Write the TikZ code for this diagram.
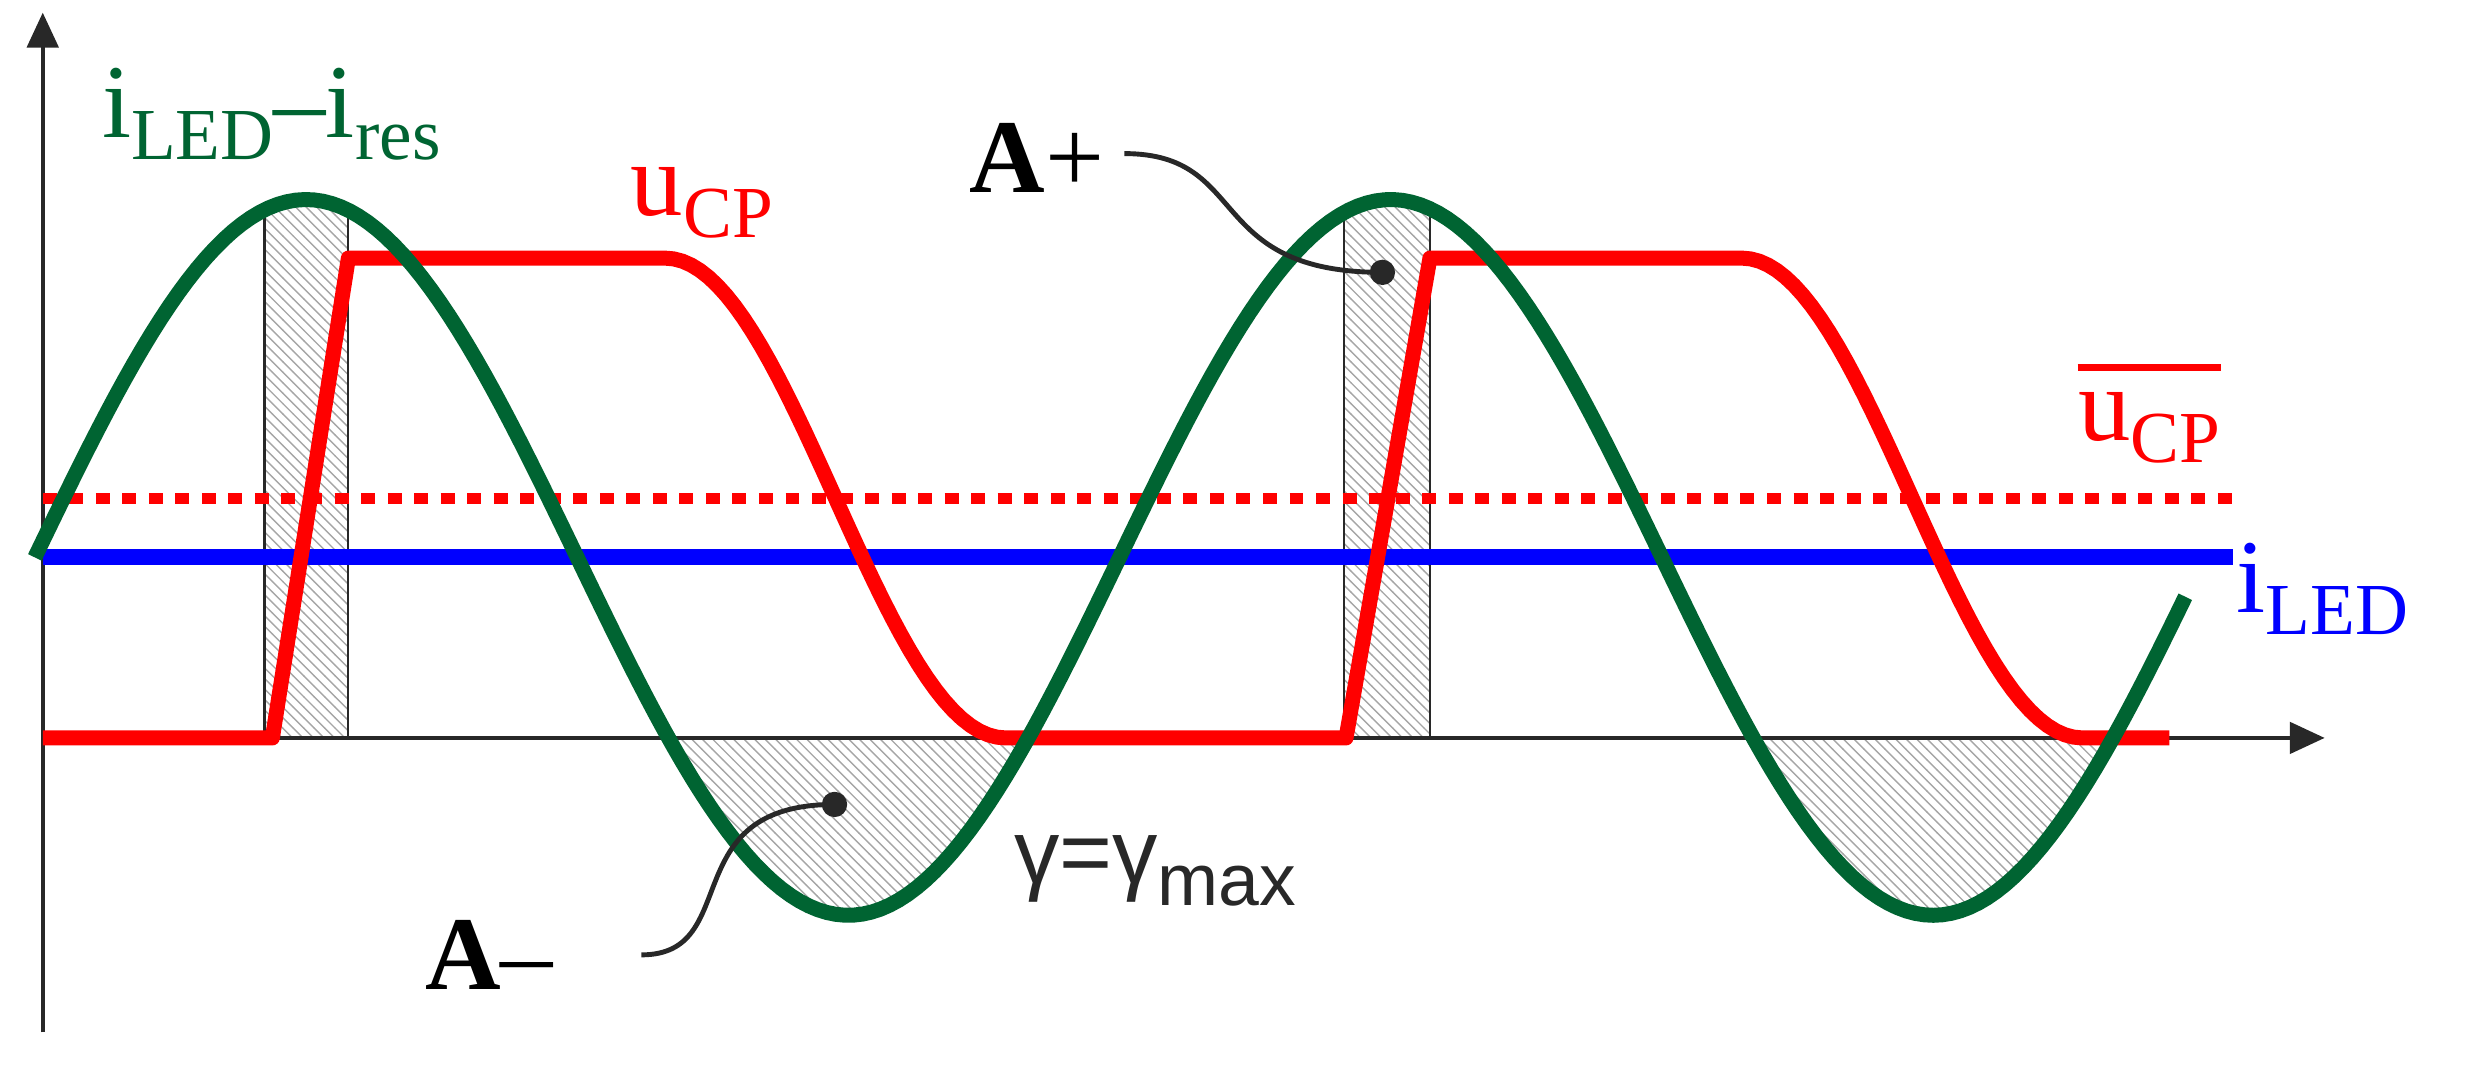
\documentclass[tikz,border=0pt]{standalone}
\usepackage{fontspec}
\setmainfont{Liberation Serif}
\newfontfamily\sansf{Liberation Sans}
\usetikzlibrary{arrows.meta,patterns}
\definecolor{cgreen}{RGB}{0,100,50}
\definecolor{caxis}{RGB}{40,40,40}
\newcommand\lsub[1]{\raisebox{-0.45ex}{\fontsize{21}{21}\selectfont #1}}
\tikzset{
  curve/.style={line width=4.3pt},
  axisline/.style={caxis,line width=1.1pt,-{Triangle[length=10pt,width=9pt]}},
  hatch/.style={pattern=north west lines,pattern color=gray!70},
  bar/.style={caxis,line width=0.6pt},
  lead/.style={caxis,line width=1.4pt},
  lbl/.style={font=\fontsize{30}{30}\selectfont,inner sep=0pt},
  declare function={g(\t)=352-226*sin((\t-22)*0.525547);},
}
\begin{document}
\begin{tikzpicture}[x=0.015944cm,y=-0.015944cm]
\useasboundingbox (0,0) rectangle (1568,678);
% hatched areas
\fill[hatch] (167,466) -- plot[domain=167:220,samples=20] (\x,{g(\x)}) -- (220,466) -- cycle;
\fill[hatch] (849,466) -- plot[domain=849:903,samples=20] (\x,{g(\x)}) -- (903,466) -- cycle;
\fill[hatch] plot[domain=422:649,samples=60] (\x,{g(\x)}) -- cycle;
\fill[hatch] plot[domain=1107:1334,samples=60] (\x,{g(\x)}) -- cycle;
% axes
\coordinate (o) at (27,466);
\coordinate (ytip) at (27,8);
\coordinate (ybot) at (27,652);
\coordinate (xtip) at (1468,466);
\draw[axisline] (ybot) -- (ytip);
\draw[axisline] (o) -- (xtip);
% bars
\draw[bar] (167,466) -- (167,{g(167)});
\draw[bar] (220,466) -- (220,{g(220)});
\draw[bar] (849,466) -- (849,{g(849)});
\draw[bar] (903,466) -- (903,{g(903)});
% mean uCP dotted
\draw[red,line width=3.2pt,dash pattern=on 4pt off 3.6pt] (27,315) -- (1410,315);
% iLED
\draw[blue,line width=4.6pt] (27,352) -- (1410,352);
% uCP
\draw[red,curve,line join=round] (27,466) -- (172,466) -- (220,163) -- (420,163)
  -- plot[domain=0:1,samples=40] ({420+215*\x},{163+303*(1-cos(180*\x))/2})
  -- (850,466) -- (903,163) -- (1100,163)
  -- plot[domain=0:1,samples=40] ({1100+215*\x},{163+303*(1-cos(180*\x))/2})
  -- (1370,466);
% iLED - ires
\draw[cgreen,curve] plot[domain=22:1380,samples=240] (\x,{g(\x)});
% leaders
\coordinate (dp) at (873,172);
\coordinate (dm) at (527,508);
\node[lbl,anchor=west] (ap) at (612,100) {\textbf{A}+};
\node[lbl,anchor=west] (am) at (268,603) {\textbf{A}–};
\draw[lead] (710,97) .. controls (790,97) and (760,172) .. (dp);
\draw[lead] (405,603) .. controls (470,603) and (425,508) .. (dm);
\fill[caxis] (dp) circle (8);
\fill[caxis] (dm) circle (8);
% labels
\node[lbl,cgreen,anchor=west] (lg) at (64,72) {i\lsub{LED}–i\lsub{res}};
\node[lbl,red,anchor=west] (lu) at (398,128) {u\lsub{CP}};
\node[lbl,red,anchor=west] (lum) at (1312,270) {u\lsub{CP}};
\draw[red,line width=2pt] ([yshift=7pt]lum.north west) -- ([yshift=7pt]lum.north east);
\node[lbl,blue,anchor=west] (li) at (1412,372) {i\lsub{LED}};
\node[lbl,caxis,anchor=west] (lgam) at (640,550) {\sansf\fontsize{26}{26}\selectfont γ=γ\lsub{\sansf max}};
\end{tikzpicture}
\end{document}
